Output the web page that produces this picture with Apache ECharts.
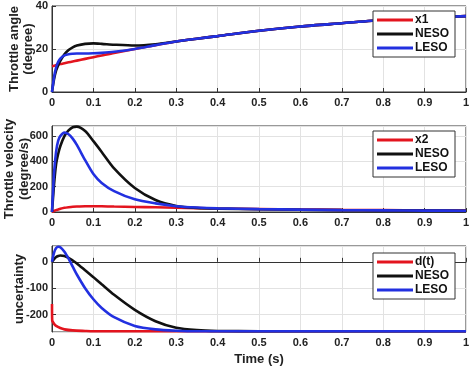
<!DOCTYPE html>
<html><head><meta charset="utf-8">
<script src="https://cdn.jsdelivr.net/npm/echarts@6/dist/echarts.min.js"></script>
<style>html,body{margin:0;padding:0;background:#fff}#c{width:474px;height:366px}</style>
</head><body><div id="c"></div>
<script>
// Shared time samples (s)
const time = [0, 0.005, 0.01, 0.015, 0.02, 0.03, 0.04, 0.05, 0.06, 0.08, 0.1, 0.12, 0.15, 0.2, 0.25, 0.3, 0.35, 0.4, 0.5, 0.6, 0.7, 0.8, 0.9, 1];
// Panel 1: throttle angle (degree)
const x1     = [12, 12.2, 12.5, 12.7, 13, 13.4, 13.8, 14.2, 14.6, 15.4, 16.2, 17, 18.2, 20, 21.8, 23.5, 24.8, 26, 28.5, 30.5, 32, 33.5, 34.5, 35.3];
const neso1  = [0, 6, 10, 12.5, 14.5, 17.5, 19.5, 20.8, 21.6, 22.4, 22.6, 22.4, 22, 21.6, 22.2, 23.5, 24.8, 26, 28.5, 30.5, 32, 33.5, 34.5, 35.3];
const leso1  = [0, 7, 11.5, 14, 15.5, 17, 17.6, 17.8, 17.9, 17.9, 18, 18.2, 18.7, 20, 21.8, 23.5, 24.8, 26, 28.5, 30.5, 32, 33.5, 34.5, 35.3];
// Panel 2: throttle velocity (degree/s)
const x2     = [0, 8, 15, 20, 25, 33, 38, 42, 44, 46, 46, 45, 43, 40, 37, 34, 31, 28, 24, 20, 17, 15, 13, 11];
const neso2  = [0, 220, 380, 460, 520, 600, 645, 670, 675, 640, 560, 475, 345, 190, 95, 48, 32, 27, 22, 18, 15, 13, 11, 10];
const leso2  = [0, 310, 480, 565, 600, 628, 615, 580, 530, 410, 300, 230, 165, 100, 68, 46, 35, 29, 23, 19, 15, 13, 11, 10];
// Panel 3: uncertainty
const dTime  = [0, 0.0005, 0.002, 0.005, 0.01, 0.02, 0.03, 0.05, 0.08, 0.1, 0.15, 0.2, 0.3, 0.5, 1];
const dt     = [-160, -222, -228, -235, -243, -251, -256, -260, -262, -263, -263, -263, -263, -263, -263];
const neso3  = [0, 10, 18, 22, 24, 22, 15, 5, -6, -32, -58, -85, -125, -182, -225, -250, -259, -262, -263, -263, -263, -263, -263, -263];
const leso3  = [0, 35, 52, 57, 55, 38, 12, -18, -48, -100, -142, -175, -210, -243, -256, -261, -263, -263, -263, -263, -263, -263, -263, -263];
// Tick labels / names
const xTicks = ['0','0.1','0.2','0.3','0.4','0.5','0.6','0.7','0.8','0.9','1'];
const legends = [['x1','NESO','LESO'],['x2','NESO','LESO'],['d(t)','NESO','LESO']];
const yNameLines = [['Throttle angle', '(degree)'], ['Throttle velocity', '(degree/s)'], ['uncertainty']];

const RED = '#e3141e', BLACK = '#111111', BLUE = '#2230e0';
const FONT = 'Liberation Sans';
const pair = (xs, ys) => xs.map((x, i) => [x, ys[i]]);

const gridBoxes = [
  {left: 52, top: 6, width: 414, height: 86},
  {left: 52, top: 126, width: 414, height: 86},
  {left: 52, top: 246, width: 414, height: 86}
];
const grids = gridBoxes.map(g => Object.assign({}, g, {show: true, borderColor: '#333', borderWidth: 1, backgroundColor: '#fff',
  containLabel: false, outerBoundsMode: 'none'}));

const yRanges = [{min: 0, max: 40, interval: 20}, {min: 0, max: 680, interval: 200}, {min: -266, max: 60, splitNumber: 3}];

const xAxes = [0,1,2].map(i => ({
  type: 'value', gridIndex: i, min: 0, max: 1, interval: 0.1,
  axisLine: {show: true, lineStyle: {color: '#333'}},
  axisTick: {show: true, inside: true, length: 4, lineStyle: {color: '#333'}},
  splitLine: {show: true, lineStyle: {color: '#e2e2e2', width: 1}},
  axisLabel: {fontFamily: FONT, fontWeight: 'bold', fontSize: 11, color: '#222', margin: 5,
    formatter: v => { const k = Math.round(v * 10); return xTicks[k] !== undefined ? xTicks[k] : ''; }},
  name: i === 2 ? 'Time (s)' : '', nameLocation: 'middle', nameGap: 21, nameMoveOverlap: false,
  nameTextStyle: {fontFamily: FONT, fontWeight: 'bold', fontSize: 13, color: '#222'}
}));

const yAxes = [0,1,2].map(i => Object.assign({
  type: 'value', gridIndex: i,
  axisLine: {show: true, lineStyle: {color: '#333'}},
  axisTick: {show: true, inside: true, length: 4, lineStyle: {color: '#333'}},
  splitLine: {show: true, lineStyle: {color: '#e2e2e2', width: 1}},
  axisLabel: {fontFamily: FONT, fontWeight: 'bold', fontSize: 11, color: '#222', margin: 4,
    showMaxLabel: i === 0, showMinLabel: i !== 2,
    formatter: v => (Math.abs(v % (i === 0 ? 20 : 100)) < 1e-6 ? String(v) : '')}
}, yRanges[i]));

// y-axis titles as rotated text, centred on each grid
const nameX = [[14, 28.5], [9, 24], [19]];
const graphic = [];
yNameLines.forEach((lines, i) => {
  const cy = gridBoxes[i].top + gridBoxes[i].height / 2;
  lines.forEach((t, j) => graphic.push({
    type: 'text', x: nameX[i][j], y: cy, rotation: Math.PI / 2, silent: true,
    style: {text: t, font: 'bold 13px "Liberation Sans"', fill: '#222',
      align: 'center', verticalAlign: 'middle', textAlign: 'center', textVerticalAlign: 'middle'}
  }));
});

function line(name, data, color, idx) {
  return {type: 'line', name, data, xAxisIndex: idx, yAxisIndex: idx, showSymbol: false,
    smooth: 0.25, lineStyle: {color, width: 2.6}, itemStyle: {color}, animation: false};
}

const series = [
  line('x1', pair(time, x1), RED, 0), line('NESO', pair(time, neso1), BLACK, 0), line('LESO', pair(time, leso1), BLUE, 0),
  line('x2', pair(time, x2), RED, 1), line('NESO', pair(time, neso2), BLACK, 1), line('LESO', pair(time, leso2), BLUE, 1),
  line('d(t)', pair(dTime, dt), RED, 2), line('NESO', pair(time, neso3), BLACK, 2), line('LESO', pair(time, leso3), BLUE, 2)
];

const legendTops = [11, 131, 253];
const legend = legends.map((names, i) => ({
  data: names, orient: 'vertical', left: 373, top: legendTops[i],
  itemWidth: 36, itemHeight: 3, itemGap: 2, icon: 'rect',
  padding: [3, 6, 3, 4], backgroundColor: '#fff', borderColor: '#333', borderWidth: 1,
  textStyle: {fontFamily: FONT, fontWeight: 'bold', fontSize: 12, color: '#111', padding: [0, 0, 0, -3]},
  selectedMode: false
}));

const chart = echarts.init(document.getElementById('c'), null, {renderer: 'canvas'});
chart.setOption({backgroundColor: '#fff', animation: false, grid: grids, xAxis: xAxes, yAxis: yAxes, series, legend, graphic});
</script></body></html>
